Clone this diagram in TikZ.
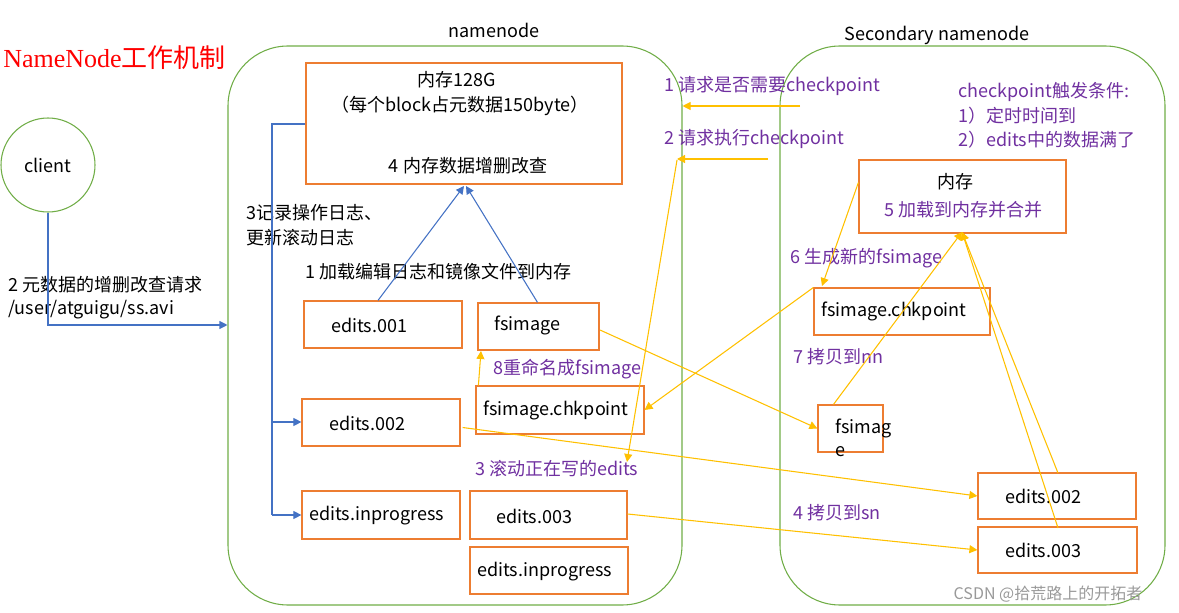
\documentclass[tikz,border=0pt]{standalone}
\usepackage{fontspec}
\setmainfont{Noto Sans CJK SC}
\newfontfamily\tfont{Liberation Serif}
\usetikzlibrary{fit,arrows.meta}
\definecolor{og}{HTML}{ED7D31}
\definecolor{yl}{HTML}{FFC000}
\definecolor{bl}{HTML}{4472C4}
\definecolor{gr}{HTML}{70AD47}
\definecolor{pu}{HTML}{7030A0}
\begin{document}
\begin{tikzpicture}[x=0.75pt,y=-0.75pt,
  box/.style={draw=og,line width=0.9pt,inner sep=0pt},
  area/.style={draw=gr,line width=0.8pt,rounded corners=45pt,inner sep=0pt},
  t/.style={font=\fontsize{13.5}{15}\selectfont,inner sep=0pt,anchor=west},
  p/.style={t,text=pu},
  ya/.style={draw=yl,line width=0.8pt,-{Triangle[length=6pt,width=6pt]}},
  ba/.style={draw=bl,line width=0.8pt,-{Triangle[length=6pt,width=6pt]}},
  yln/.style={draw=yl,line width=0.8pt},
  bln/.style={draw=bl,line width=0.8pt}]
\useasboundingbox (0,0) rectangle (1179,613);
\node[area,fit={(228,46)(682,605)}] (nn) {};
\node[area,fit={(780,46)(1165,605)}] (snn) {};
\node[t,anchor=center] (nnl) at (494,30) {namenode};
\node[t,anchor=center] (snnl) at (937,35) {Secondary namenode};
\node[anchor=west,inner sep=0pt,text=red,font=\fontsize{19.5}{21}\selectfont] (title) at (3,58) {{\tfont NameNode}工作机制};
\node[draw=gr,line width=0.8pt,circle,minimum size=94pt*0.75,inner sep=0pt,font=\fontsize{13.5}{15}\selectfont] (client) at (48,165) {client};
% NN boxes
\node[box,fit={(306,63)(622,184)}] (mem) {};
\node[t,anchor=center] at (457,80) {内存128G};
\node[t,anchor=center] at (460,106) {（每个block占元数据150byte）};
\node[t,anchor=center] at (468,166) {4 内存数据增删改查};
\node[box,fit={(304,301)(462,348)}] (e1) {};
\node[t] at (331,325) {edits.001};
\node[box,fit={(478,303)(599,350)}] (fs) {};
\node[t] at (494,325) {fsimage};
\node[box,fit={(302,399)(460,446)}] (e2) {};
\node[t] at (329,423) {edits.002};
\node[box,fit={(476,386)(644,434)}] (ck) {};
\node[t] at (483,410) {fsimage.chkpoint};
\node[box,fit={(302,491)(460,539)}] (ip) {};
\node[t] at (309,516) {edits.inprogress};
\node[box,fit={(470,491)(627,539)}] (e3) {};
\node[t] at (496,516) {edits.003};
\node[box,fit={(470,547)(628,594)}] (ip2) {};
\node[t] at (477,572) {edits.inprogress};
% SNN boxes
\node[box,fit={(859,160)(1066,233)}] (smem) {};
\node[t,anchor=center] at (955,182) {内存};
\node[p] at (884,210) {5 加载到内存并合并};
\node[box,fit={(814,288)(990,335)}] (sck) {};
\node[t] at (821,311) {fsimage.chkpoint};
\node[box,fit={(818,405)(883,452)}] (sfs) {};
\node[t] at (835,428) {fsimag};
\node[t] at (835,452) {e};
\node[box,fit={(978,473)(1136,519)}] (se2) {};
\node[t] at (1005,496) {edits.002};
\node[box,fit={(978,527)(1137,573)}] (se3) {};
\node[t] at (1005,550) {edits.003};
% texts
\node[t] at (246,213) {3记录操作日志、};
\node[t] at (246,238) {更新滚动日志};
\node[t] at (305,272) {1 加载编辑日志和镜像文件到内存};
\node[t] at (8,285) {2 元数据的增删改查请求};
\node[t] at (8,310) {/user/atguigu/ss.avi};
\node[p] at (664,86) {1 请求是否需要checkpoint};
\node[p] at (664,139) {2 请求执行checkpoint};
\node[p] at (958,92) {checkpoint触发条件:};
\node[p] at (958,116) {1）定时时间到};
\node[p] at (958,140) {2）edits中的数据满了};
\node[p] at (790,258) {6 生成新的fsimage};
\node[p] at (793,357) {7 拷贝到nn};
\node[p] at (493,369) {8重命名成fsimage};
\node[p] at (475,469) {3 滚动正在写的edits};
\node[p] at (793,513) {4 拷贝到sn};
\node[t,text=gray!80,font=\fontsize{12}{14}\selectfont,anchor=center] at (1048,594) {CSDN @拾荒路上的开拓者};
% blue connectors
\coordinate (bt) at (272,124);
\coordinate (bb) at (272,515);
\coordinate (c1) at (48,325);
\draw[bln] (mem.west|-bt) -- (bt) -- (bb);
\draw[ba] (bb) -- (ip.west|-bb);
\draw[ba] (272,422) -- (e2.west|-272,422);
\draw[ba] (client.south) -- (c1) -- (nn.west|-c1);
\draw[ba] (e1.north) ++(-5,0) -- (464,186);
\draw[ba] (fs.north) ++(-1,0) -- (466,186);
% yellow connectors
\draw[ya] (800,106) -- (nn.east|-800,106);
\draw[ya] (768,159) -- (677,159);
\draw[ya] (677,160) -- (627,462);
\draw[ya] (ck.north west) ++(3,0) -- (481,351);
\draw[ya] (600,330) -- (sfs.west);
\draw[ya] (e2.east) ++(2,5) -- (se2.west);
\draw[ya] (e3.east) ++(0,-1) -- (se3.west);
\draw[ya] (sfs.north) ++(-17,0) -- (962,232);
\draw[ya] (1058,473) -- (962,232);
\draw[ya] (1058,528) -- (962,232);
\draw[ya] (smem.west) ++(0,-14) -- (822,286);
\draw[ya] (sck.west) ++(0,-24) -- (ck.east);
\end{tikzpicture}
\end{document}
